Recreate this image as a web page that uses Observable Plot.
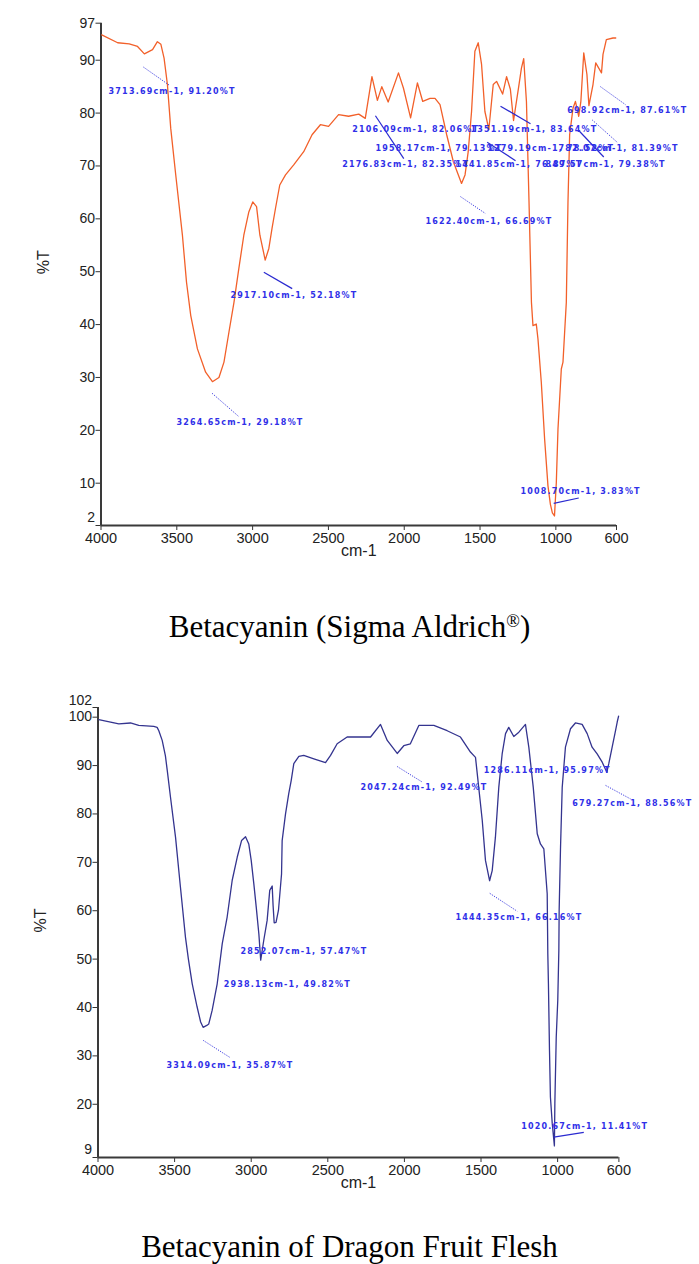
<!DOCTYPE html>
<html><head><meta charset="utf-8">
<script src="https://cdn.jsdelivr.net/npm/d3@7"></script>
<script src="https://cdn.jsdelivr.net/npm/@observablehq/plot@0.6"></script>
<style>
body{margin:0;background:#fff;}
#page{position:relative;width:699px;height:1264px;overflow:hidden;background:#fff;}
.chart{position:absolute;left:0;}
.title{position:absolute;left:0;width:699px;text-align:center;font-family:"Liberation Serif","Times New Roman",serif;font-size:31px;line-height:31px;color:#000;white-space:nowrap;}
.title sup{font-size:58%;vertical-align:0.55em;line-height:0;}
</style></head><body><div id="page"></div>
<script>
// ---------- shared axis ticks ----------
const xTicks = [4000, 3500, 3000, 2500, 2000, 1500, 1000, 600];
const topYTicks = [97, 90, 80, 70, 60, 50, 40, 30, 20, 10, 2];
const bottomYTicks = [102, 100, 90, 80, 70, 60, 50, 40, 30, 20, 9];

// ---------- Betacyanin (Sigma Aldrich) spectrum: [cm-1, %T] ----------
const topSpectrum = [
 [3995,94.8],[3890,93.3],[3814,93.1],[3759,92.6],[3714,91.2],[3660,92.0],[3628,93.5],[3605,93.0],
 [3584,90.4],[3562,85.4],[3540,77.1],[3507,68.3],[3463,56.9],[3436,48.0],[3408,41.7],[3364,35.4],
 [3310,31.0],[3265,29.2],[3222,30.0],[3189,32.9],[3156,38.6],[3123,44.2],[3091,50.6],[3058,56.9],
 [3025,61.3],[2999,63.2],[2974,62.3],[2952,56.9],[2917,52.2],[2893,54.4],[2872,58.2],[2849,62.0],
 [2821,66.4],[2783,68.3],[2729,70.2],[2663,72.7],[2608,75.9],[2553,77.8],[2499,77.5],[2433,79.7],
 [2367,79.4],[2300,79.8],[2257,79.0],[2213,86.9],[2177,82.4],[2148,85.0],[2106,82.1],[2038,87.6],
 [2005,84.7],[1958,79.1],[1913,85.7],[1878,82.2],[1830,82.8],[1797,82.8],[1764,81.6],[1720,75.9],
 [1676,70.8],[1622,66.7],[1599,68.3],[1578,72.7],[1556,80.3],[1534,91.7],[1512,93.3],[1490,89.2],
 [1468,80.3],[1442,76.9],[1413,85.4],[1391,86.0],[1351,83.6],[1325,86.9],[1300,84.5],[1279,78.6],
 [1245,85.0],[1227,88.5],[1212,90.3],[1194,82.2],[1177,63.2],[1161,44.2],[1151,39.8],[1129,40.1],
 [1118,37.3],[1096,29.1],[1074,18.3],[1052,9.5],[1036,6.0],[1023,4.4],[1009,3.8],[997,10.1],
 [986,20.2],[964,31.6],[953,32.9],[942,38.6],[931,44.2],[920,63.2],[909,75.9],[887,80.9],
 [871,82.2],[849,79.4],[835,82.2],[816,91.4],[795,87.3],[782,81.4],[755,85.4],[737,89.5],
 [699,87.6],[689,91.1],[667,93.9],[623,94.2],[605,94.2]
];
// peak labels: [text, label cm-1, label %T]
const topLabels = [
 ["3713.69cm-1, 91.20%T", 3950, 84.0],
 ["2917.10cm-1, 52.18%T", 3146, 45.6],
 ["3264.65cm-1, 29.18%T", 3502, 21.4],
 ["1008.70cm-1, 3.83%T", 1233, 8.4],
 ["1622.40cm-1, 66.69%T", 1860, 59.6],
 ["2106.09cm-1, 82.06%T", 2343, 77.0],
 ["2176.83cm-1, 82.35%T", 2409, 70.3],
 ["1958.17cm-1, 79.13%T", 2190, 73.4],
 ["1351.19cm-1, 83.64%T", 1563, 77.0],
 ["1279.19cm-1, 78.52%T", 1453, 73.4],
 ["1441.85cm-1, 76.87%T", 1662, 70.3],
 ["782.07cm-1, 81.39%T", 983, 73.4],
 ["849.57cm-1, 79.38%T", 1068, 70.3],
 ["698.92cm-1, 87.61%T", 925, 80.5]
];
// leader lines: [cm-1 start, %T start, cm-1 end, %T end]
const topLeadersDotted = [
 [3720,88.7,3546,85.2],[3267,27.0,3091,22.6],[1629,64.2,1464,61.0],
 [760,78.7,596,74.5],[706,85.0,541,81.6]
];
const topLeadersSolid = [
 [2926,49.9,2739,46.8],[1014,6.2,849,7.2],[2190,79.5,2003,71.4],
 [1365,81.3,1167,78.0],[1453,74.5,1266,71.0],[849,76.7,684,71.7]
];

// ---------- Betacyanin of dragon fruit flesh spectrum: [cm-1, %T] ----------
const bottomSpectrum = [
 [3995,99.5],[3918,99.0],[3864,98.6],[3788,98.8],[3734,98.3],[3636,98.1],[3614,97.9],[3603,97.2],
 [3581,95.2],[3560,92.0],[3548,89.0],[3527,83.5],[3494,75.2],[3462,64.9],[3429,54.5],[3410,50.0],
 [3385,44.9],[3353,40.1],[3330,37.0],[3314,35.9],[3290,36.3],[3277,36.6],[3255,39.4],[3222,44.9],
 [3189,53.2],[3157,58.7],[3124,66.3],[3091,71.1],[3063,74.5],[3037,75.3],[3016,73.8],[3000,70.4],
 [2983,65.6],[2967,60.7],[2950,55.2],[2938,49.8],[2918,53.9],[2896,58.0],[2879,64.2],[2863,65.1],
 [2857,61.0],[2850,57.5],[2838,57.6],[2822,60.1],[2802,67.6],[2798,74.5],[2776,80.0],[2755,84.2],
 [2739,86.9],[2722,90.4],[2689,91.9],[2657,92.1],[2591,91.4],[2515,90.6],[2482,92.1],[2439,94.5],
 [2374,95.9],[2308,95.9],[2287,95.9],[2221,95.9],[2156,98.5],[2112,95.2],[2047,92.5],[2004,94.1],
 [1961,94.5],[1906,98.3],[1808,98.3],[1721,97.2],[1634,95.9],[1569,92.8],[1536,91.7],[1515,85.5],
 [1492,78.7],[1471,70.4],[1444,66.2],[1427,68.3],[1406,75.2],[1384,85.5],[1362,92.4],[1340,96.6],
 [1319,97.9],[1286,96.0],[1253,96.9],[1210,98.5],[1188,93.8],[1159,85.5],[1133,75.9],[1112,73.8],
 [1090,72.8],[1068,63.5],[1064,51.1],[1060,44.9],[1053,31.1],[1047,21.5],[1035,16.0],[1021,11.4],
 [1018,20.2],[1009,33.9],[999,41.5],[992,51.8],[990,60.0],[981,73.1],[970,85.5],[949,93.8],
 [916,97.6],[884,98.8],[840,98.5],[807,96.6],[775,93.8],[742,92.4],[709,90.7],[679,88.6],
 [666,90.4],[644,93.8],[622,97.2],[611,99.0],[602,100.2]
];
const bottomLabels = [
 ["2047.24cm-1, 92.49%T", 2287, 85.5],
 ["1286.11cm-1, 95.97%T", 1482, 89.0],
 ["679.27cm-1, 88.56%T", 905, 82.2],
 ["1444.35cm-1, 66.16%T", 1667, 58.7],
 ["2852.07cm-1, 57.47%T", 3070, 51.6],
 ["2938.13cm-1, 49.82%T", 3179, 44.8],
 ["3314.09cm-1, 35.87%T", 3553, 28.0],
 ["1020.67cm-1, 11.41%T", 1238, 15.4]
];
const bottomLeadersDotted = [
 [2047,89.8,1884,86.6],[687,85.9,524,83.1],[1443,63.6,1264,59.9],[3313,33.2,3140,29.7]
];
const bottomLeadersSolid = [
 [1025,13.2,829,14.2]
];

function spectrumChart({spectrum, labels, dotted, solid, yTicks, yDomain, color, height, mt, mb, ml, mr, nudge}) {
  const svg = Plot.plot({
    width: 699, height,
    marginTop: mt, marginBottom: mb, marginLeft: ml, marginRight: mr,
    x: {domain: [4000, 600]},
    y: {domain: yDomain},
    style: {fontFamily: "'Liberation Sans', Arial, sans-serif", background: "#fff", color: "#222", overflow: "visible"},
    marks: [
      Plot.axisX({ticks: xTicks, tickSize: 5, tickPadding: 2, fontSize: 14.5, label: null, tickFormat: d => String(d), stroke: "#333"}),
      Plot.axisY({ticks: yTicks, tickSize: 5, tickPadding: 1, fontSize: 14, label: null, tickFormat: d => String(d), stroke: "#333"}),
      Plot.ruleY([yDomain[0]], {stroke: "#3a3a3a", strokeWidth: 2}),
      Plot.ruleX([4000], {stroke: "#3a3a3a", strokeWidth: 2}),
      Plot.line(spectrum, {x: d => d[0], y: d => d[1], stroke: color, strokeWidth: 1.3}),
      Plot.link(dotted, {x1: d => d[0], y1: d => d[1], x2: d => d[2], y2: d => d[3], stroke: "#3d3de0", strokeWidth: 1, strokeDasharray: "1.2,1.3"}),
      Plot.link(solid, {x1: d => d[0], y1: d => d[1], x2: d => d[2], y2: d => d[3], stroke: "#2a2ad0", strokeWidth: 1.2}),
      Plot.text(labels, {x: d => d[1], y: d => d[2], text: d => d[0], textAnchor: "start", fill: "#3030e8", fontSize: 8, fontWeight: "bold", fontFamily: "'DejaVu Sans', Verdana, sans-serif"}),
      Plot.text(["%T"], {frameAnchor: "left", text: d => d, rotate: -90, dx: -57, fontSize: 16, fill: "#222"}),
      Plot.text(["cm-1"], {frameAnchor: "bottom", text: d => d, dy: 30, fontSize: 16, fill: "#222"})
    ]
  });
  // peak labels are letter-spaced in the reference
  d3.select(svg).selectAll("text").filter(function() { return this.textContent.includes("cm-1,"); })
    .style("letter-spacing", "1.2px");
  // crowded end ticks sit a little apart in the reference
  d3.select(svg).selectAll('g[aria-label="y-axis tick label"] text').each(function() {
    const shift = nudge[this.textContent];
    if (shift) d3.select(this).attr("y", shift);
  });
  return svg;
}

const page = document.getElementById("page");

const top1 = spectrumChart({spectrum: topSpectrum, labels: topLabels, dotted: topLeadersDotted, solid: topLeadersSolid,
  yTicks: topYTicks, yDomain: [2, 97], color: "#f2602a", height: 580, mt: 22.7, mb: 55, ml: 100.5, mr: 83,
  nudge: {"2": -4}});
top1.classList.add("chart"); top1.style.top = "0px";
page.appendChild(top1);

const t1 = document.createElement("div");
t1.className = "title"; t1.style.top = "611px";
t1.innerHTML = "Betacyanin (Sigma Aldrich<sup>®</sup>)";
page.appendChild(t1);

const bot = spectrumChart({spectrum: bottomSpectrum, labels: bottomLabels, dotted: bottomLeadersDotted, solid: bottomLeadersSolid,
  yTicks: bottomYTicks, yDomain: [9, 102], color: "#34348f", height: 520, mt: 27, mb: 43, ml: 97.5, mr: 80.6,
  nudge: {"102": -3, "100": 4, "9": -4}});
bot.classList.add("chart"); bot.style.top = "680px";
page.appendChild(bot);

const t2 = document.createElement("div");
t2.className = "title"; t2.style.top = "1231px";
t2.textContent = "Betacyanin of Dragon Fruit Flesh";
page.appendChild(t2);
</script></body></html>
